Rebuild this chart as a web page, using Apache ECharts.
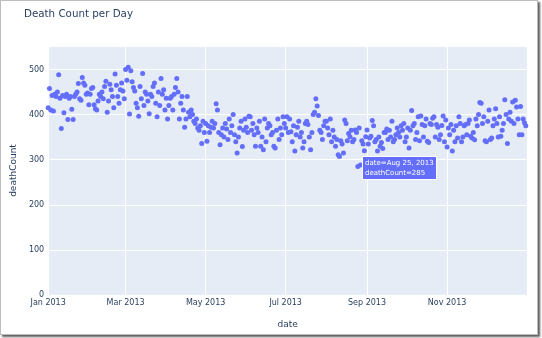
<!DOCTYPE html>
<html>
<head>
<meta charset="utf-8">
<script src="https://cdn.jsdelivr.net/npm/echarts@6/dist/echarts.min.js"></script>
<style>
html,body{margin:0;padding:0;background:#fff;}
#frame{position:absolute;left:0;top:0;width:536px;height:333px;border:1px solid #bdbdbd;box-shadow:2px 2px 2px rgba(0,0,0,0.65);background:#fff;}
#chart{width:536px;height:333px;}
</style>
</head>
<body>
<div id="frame"><div id="chart"></div></div>
<script>
// Daily death counts, 2013
const jan = [415,458,410,442,408,445,440,450,488,436,369,442,404,440,445,389,436,440,412,389,440,445,450,469,435,432,482,470,465,445,448];
const feb = [422,445,458,460,422,413,410,430,445,440,450,435,462,474,405,430,467,455,440,415,490,465,440,425,455,470,452,435];
const mar = [500,476,505,401,497,473,460,452,425,415,396,462,435,491,420,450,445,430,402,445,440,462,470,425,395,450,420,480,445,455,410];
const apr = [436,390,420,436,440,410,445,460,480,450,390,425,440,410,372,390,440,405,395,410,400,385,380,390,370,365,375,336,385,360];
const may = [380,341,375,360,372,385,370,380,424,410,360,333,355,370,350,380,368,345,390,360,375,400,355,340,315,350,370,385,329,365,390];
const jun = [372,360,396,395,365,380,355,330,370,360,385,330,350,322,390,340,370,380,375,355,360,330,326,365,390,345,370,355,395,380];
const jul = [370,395,360,390,362,340,375,319,355,372,385,350,360,326,340,380,385,378,350,322,360,400,405,435,419,398,365,360,345,375,385];
const aug = [385,370,355,390,340,365,350,330,345,311,307,342,335,315,388,380,342,358,351,365,340,345,366,360,285,370,288,342,335,320,351];
const sep = [366,335,348,352,387,375,340,345,319,350,330,338,325,360,360,368,345,365,350,385,340,345,355,370,360,350,375,365,380,340];
const oct = [350,370,326,365,409,375,380,345,360,395,342,397,378,350,375,390,341,338,380,378,392,395,350,378,372,345,355,376,397,340,388];
const nov = [328,370,355,378,319,365,340,375,348,395,380,340,350,375,378,355,380,388,352,348,360,344,390,375,400,427,425,380,395,342];
const dec = [340,385,410,345,348,375,390,413,380,350,395,352,365,380,433,400,336,390,405,385,428,380,432,417,390,355,418,355,390,382,375];

const months = [jan,feb,mar,apr,may,jun,jul,aug,sep,oct,nov,dec];
const monthNames = ['Jan','Feb','Mar','Apr','May','Jun','Jul','Aug','Sep','Oct','Nov','Dec'];
const yTicks = [0,100,200,300,400,500];
const hoverDate = [2013, 7, 25]; // Aug 25, 2013

const data = [];
months.forEach((arr, m) => {
  arr.forEach((v, d) => {
    data.push([new Date(2013, m, d + 1).getTime(), v]);
  });
});
const hoverIndex = data.findIndex(p => p[0] === new Date(hoverDate[0], hoverDate[1], hoverDate[2]).getTime());

const FONT = 'DejaVu Sans';
const TXT = '#2a3f5f';

const chart = echarts.init(document.getElementById('chart'), null, {renderer: 'canvas'});
chart.setOption({
  animation: false,
  backgroundColor: '#fff',
  title: {
    text: 'Death Count per Day',
    left: 23, top: 8, padding: 0,
    textStyle: {fontFamily: FONT, fontSize: 10.3, fontWeight: 'normal', color: TXT}
  },
  grid: {
    left: 41, right: 10, top: 45, bottom: 37,
    show: true, backgroundColor: '#E5ECF6', borderWidth: 0
  },
  tooltip: {
    trigger: 'item',
    triggerOn: 'none',
    alwaysShowContent: true,
    transitionDuration: 0,
    backgroundColor: '#636efa',
    borderColor: '#ffffff',
    borderWidth: 1,
    borderRadius: 0,
    padding: [1, 2],
    extraCssText: 'box-shadow:none;line-height:10px;',
    textStyle: {fontFamily: FONT, fontSize: 7, color: '#fff'},
    position: function (pt) { return [pt[0] + 4, pt[1] - 10]; },
    formatter: function (p) {
      const dt = new Date(p.value[0]);
      return 'date=' + monthNames[dt.getMonth()] + ' ' + dt.getDate() + ', ' + dt.getFullYear() +
             '<br/>deathCount=' + p.value[1];
    }
  },
  xAxis: {
    type: 'time',
    min: new Date(2013, 0, 1).getTime(),
    max: new Date(2013, 11, 31, 22).getTime(),
    splitNumber: 6,
    name: 'date',
    nameLocation: 'middle',
    nameGap: 25,
    nameTextStyle: {fontFamily: FONT, fontSize: 9, color: TXT},
    axisLine: {show: false},
    axisTick: {show: false},
    axisLabel: {
      fontFamily: FONT, fontSize: 8, color: TXT, margin: 4,
      hideOverlap: false,
      formatter: function (v) {
        const dt = new Date(v);
        return monthNames[dt.getMonth()] + ' ' + dt.getFullYear();
      }
    },
    splitLine: {show: true, lineStyle: {color: '#ffffff', width: 1}}
  },
  yAxis: {
    type: 'value',
    min: 0, max: 552, interval: 100,
    name: 'deathCount',
    nameLocation: 'middle',
    nameGap: 23,
    nameRotate: 90,
    nameTextStyle: {fontFamily: FONT, fontSize: 9, color: TXT},
    axisLine: {show: false},
    axisTick: {show: false},
    axisLabel: {
      fontFamily: FONT, fontSize: 8, color: TXT, margin: 4,
      formatter: function (v) { return yTicks.indexOf(v) >= 0 ? String(v) : ''; }
    },
    splitLine: {show: true, lineStyle: {color: '#ffffff', width: 1}}
  },
  series: [{
    type: 'scatter',
    data: data,
    symbolSize: 5,
    itemStyle: {color: '#636efa', opacity: 1},
    emphasis: {scale: false}
  }]
});
chart.dispatchAction({type: 'showTip', seriesIndex: 0, dataIndex: hoverIndex});
</script>
</body>
</html>
